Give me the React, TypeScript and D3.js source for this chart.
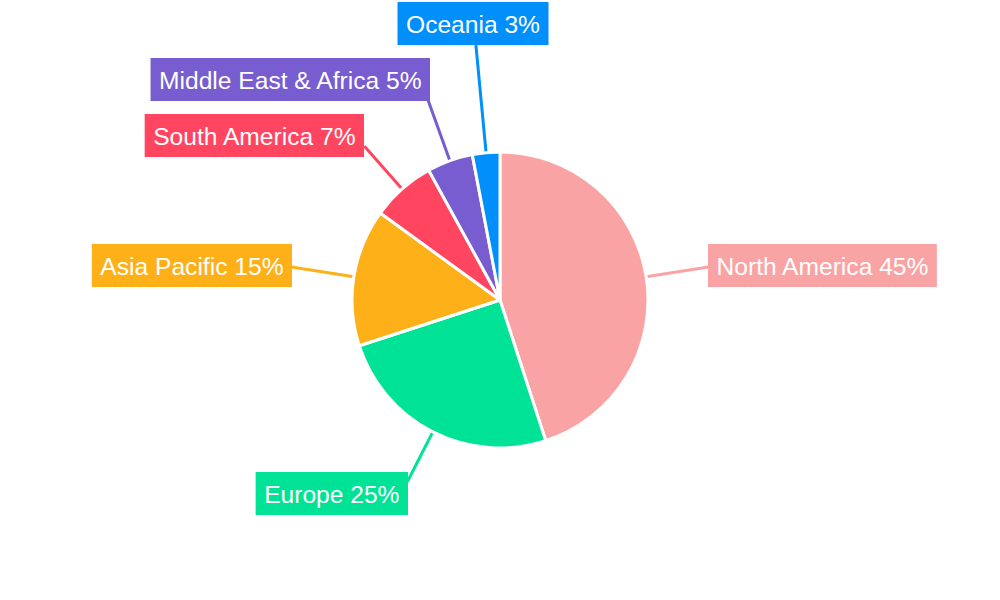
import React, { useEffect, useRef } from "react";
import * as d3 from "d3";

const regions = ["North America", "Europe", "Asia Pacific", "South America", "Middle East & Africa", "Oceania"];
const shares = [45, 25, 15, 7, 5, 3];
const colors = ["#F9A3A4", "#00E396", "#FEB019", "#FF4560", "#775DD0", "#008FFB"];

// label layout (style / positioning only)
const labelRadius = [211, 204, 211, 205, 212, 256];
const boxSide = ["left", "right", "right", "right", "right", "center"];
const boxX = [708, 408, 292, 364, 430, 473];
const boxTop = [244, 472, 244, 114, 58, 2];

export default function App() {
  const ref = useRef<SVGSVGElement>(null);
  useEffect(() => {
    const svg = d3.select(ref.current);
    svg.selectAll("*").remove();
    const W = 1000, H = 600, cx = 500, cy = 300, R = 148;
    const data = regions.map((r, i) => ({ name: r, value: shares[i], i }));
    const pie = d3.pie<any>().value((d) => d.value).sort(null);
    const arcs = pie(data);
    const arc = d3.arc<any>().innerRadius(0).outerRadius(R);
    const g = svg.append("g").attr("transform", `translate(${cx},${cy})`);

    arcs.forEach((a) => {
      const mid = (a.startAngle + a.endAngle) / 2;
      const p0 = [R * Math.sin(mid), -R * Math.cos(mid)];
      const rl = labelRadius[a.data.i];
      const p1 = [rl * Math.sin(mid), -rl * Math.cos(mid)];
      g.append("line")
        .attr("x1", p0[0]).attr("y1", p0[1])
        .attr("x2", p1[0]).attr("y2", p1[1])
        .attr("stroke", colors[a.data.i])
        .attr("stroke-width", 3);
    });

    g.selectAll("path.slice")
      .data(arcs)
      .enter()
      .append("path")
      .attr("class", "slice")
      .attr("d", arc)
      .attr("fill", (d) => colors[d.data.i])
      .attr("stroke", "#fff")
      .attr("stroke-width", 3)
      .attr("stroke-linejoin", "round");

    arcs.forEach((a) => {
      const i = a.data.i;
      const lg = svg.append("g");
      const rect = lg.append("rect").attr("fill", colors[i]);
      const text = lg
        .append("text")
        .text(`${regions[i]} ${shares[i]}%`)
        .attr("fill", "#fff")
        .attr("font-family", "'Liberation Sans', Arial, sans-serif")
        .attr("font-size", 24.6);
      const tw = (text.node() as SVGTextElement).getComputedTextLength();
      const bw = tw + 17;
      const bh = 43;
      let x0 = boxX[i];
      if (boxSide[i] === "right") x0 = boxX[i] - bw;
      if (boxSide[i] === "center") x0 = boxX[i] - bw / 2;
      rect.attr("x", x0).attr("y", boxTop[i]).attr("width", bw).attr("height", bh);
      text.attr("x", x0 + 8.5).attr("y", boxTop[i] + 30.5);
    });
    svg.attr("width", W).attr("height", H);
  }, []);
  return (
    <svg
      ref={ref}
      width={1000}
      height={600}
      style={{ position: "absolute", left: 0, top: 0, background: "#fff" }}
    />
  );
}
